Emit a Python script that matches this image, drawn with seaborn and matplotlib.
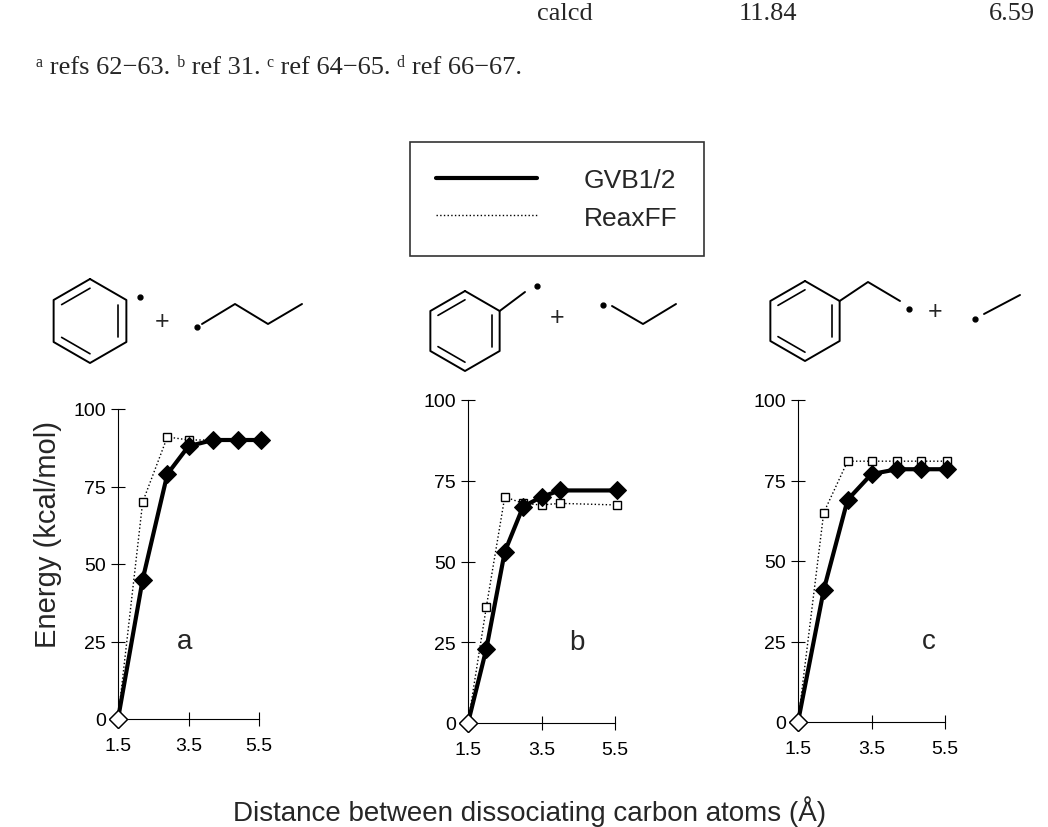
import numpy as np
import pandas as pd
import matplotlib
matplotlib.use("Agg")
import matplotlib.pyplot as plt
import seaborn as sns

x_a = [1.5, 2.2, 2.9, 3.5, 4.2, 4.9, 5.55]
gvb_a = [0, 45, 79, 88, 90, 90, 90]
reax_a = [0, 70, 91, 90, 90, 90, 90]
x_b = [1.5, 2.0, 2.5, 3.0, 3.5, 4.0, 5.55]
gvb_b = [0, 23, 53, 67, 70, 72, 72]
reax_b = [0, 36, 70, 68, 67.5, 68, 67.5]
x_c = [1.5, 2.2, 2.85, 3.5, 4.2, 4.85, 5.55]
gvb_c = [0, 41, 69, 77, 78.5, 78.5, 78.5]
reax_c = [0, 65, 81, 81, 81, 81, 81]
panel_letters = ["a", "b", "c"]
letter_x = [3.4, 4.45, 5.05]
yticks = [0, 25, 50, 75, 100]
xticks = [1.5, 3.5, 5.5]

sns.set_style("white")
plt.rcParams['font.family'] = ['Liberation Sans', 'DejaVu Sans']

W, H = 1048, 828
fig = plt.figure(figsize=(W / 100, H / 100), dpi=100)

def px_axes(left, top, right, bottom):
    return fig.add_axes([left / W, 1 - bottom / H, (right - left) / W, (bottom - top) / H])

geoms = [(118, 259, 410, 720), (468, 615, 401, 724), (798, 945, 401, 723)]
data = [(x_a, gvb_a, reax_a), (x_b, gvb_b, reax_b), (x_c, gvb_c, reax_c)]
for (x0, x1, yt, yb), (xs, g, r), lab, lx in zip(geoms, data, panel_letters, letter_x):
    ppu = (x1 - x0) / 4.0
    ax = px_axes(x0, yt, x0 + ppu * 4.2, yb)
    df = pd.DataFrame({"x": xs * 2, "E": g + r,
                       "method": ["GVB1/2"] * len(xs) + ["ReaxFF"] * len(xs)})
    sns.lineplot(data=df[df.method == "ReaxFF"], x="x", y="E", ax=ax, color="black",
                 lw=1, linestyle=":", marker="s", markersize=6, markerfacecolor="white",
                 markeredgecolor="black", markeredgewidth=1, clip_on=False, legend=False)
    sns.lineplot(data=df[df.method == "GVB1/2"], x="x", y="E", ax=ax, color="black",
                 lw=3, marker="D", markersize=9, markerfacecolor="black",
                 markeredgecolor="black", clip_on=False, legend=False)
    ax.plot([xs[0]], [0], marker="D", markersize=9, mfc="white", mec="black", clip_on=False, zorder=5)
    ax.set_xlim(1.5, 5.7)
    ax.set_ylim(0, 100)
    ax.set_xticks(xticks)
    ax.set_xticklabels([str(t) for t in xticks])
    ax.set_yticks(yticks)
    for s in ["top", "right"]:
        ax.spines[s].set_visible(False)
    for s in ["left", "bottom"]:
        ax.spines[s].set_color("black")
        ax.spines[s].set_linewidth(0.8)
    ax.spines["bottom"].set_bounds(1.5, 5.5)
    ax.tick_params(axis="both", direction="inout", length=10, width=0.8, labelsize=14,
                   colors="black", bottom=True, left=True)
    ax.tick_params(axis="x", pad=8)
    ax.set_xlabel("")
    ax.set_ylabel("")
    ax.text(lx, 25, lab, fontsize=20, ha="center", va="center")
    ax.patch.set_alpha(0)

fig.text(48 / W, 1 - 535 / H, "Energy (kcal/mol)", rotation=90, fontsize=21,
         ha="center", va="center")
fig.text(530 / W, 1 - 812 / H, "Distance between dissociating carbon atoms (Å)",
         fontsize=20, ha="center", va="center")

serif = ['Liberation Serif', 'DejaVu Serif']
fig.text(565 / W, 1 - 14 / H, "calcd", family=serif, fontsize=19, ha="center", va="center")
fig.text(768 / W, 1 - 14 / H, "11.84", family=serif, fontsize=19, ha="center", va="center")
fig.text(1012 / W, 1 - 14 / H, "6.59", family=serif, fontsize=19, ha="center", va="center")
fig.text(36 / W, 1 - 68 / H, "ᵃ refs 62−63. ᵇ ref 31. ᶜ ref 64−65. ᵈ ref 66−67.",
         family=serif, fontsize=19, ha="left", va="center")

from matplotlib.lines import Line2D
handles = [Line2D([], [], color="black", lw=3), Line2D([], [], color="black", lw=1, ls=":")]
leg = fig.legend(handles, ["GVB1/2", "ReaxFF"], loc="center",
                 bbox_to_anchor=(557 / W, 1 - 200 / H), fontsize=19, frameon=True,
                 fancybox=False, edgecolor="black", handlelength=3.8, handletextpad=1.8,
                 borderpad=1.0, labelspacing=0.5)
leg.get_frame().set_linewidth(1.2)

ov = fig.add_axes([0, 0, 1, 1])
ov.set_xlim(0, W); ov.set_ylim(H, 0); ov.axis("off"); ov.patch.set_alpha(0)
kw = dict(color="black", lw=1.4)

def benzene(cx, cy, r):
    ang = np.deg2rad(np.arange(90, 451, 60))
    vx, vy = cx + r * np.cos(ang), cy - r * np.sin(ang)
    ov.plot(vx, vy, **kw)
    for i in (0, 2, 4):
        a1, a2 = ang[i], ang[i + 1]
        ri = r * 0.78
        ov.plot([cx + ri * np.cos(a1), cx + ri * np.cos(a2)],
                [cy - ri * np.sin(a1), cy - ri * np.sin(a2)], color="black", lw=1.2)
    return vx, vy

def dot(x, y):
    ov.plot([x], [y], "o", color="black", ms=3.5)

def plus(x, y):
    ov.text(x, y, "+", fontsize=18, ha="center", va="center")

benzene(90, 322, 42); dot(140, 298); plus(162, 322)
dot(197, 328); ov.plot([202, 235, 268, 302], [325, 305, 325, 305], **kw)

vx, vy = benzene(465, 332, 40)
ov.plot([vx[5], 525], [vy[5], 293], **kw); dot(537, 287); plus(557, 318)
dot(603, 306); ov.plot([612, 643, 676], [307, 325, 305], **kw)

vx, vy = benzene(805, 322, 40)
ov.plot([vx[5], 868, 900], [vy[5], 283, 302], **kw); dot(909, 310); plus(935, 312)
dot(975, 320); ov.plot([984, 1020], [315, 296], **kw)

fig.savefig("out.png", dpi=100, facecolor="white")
